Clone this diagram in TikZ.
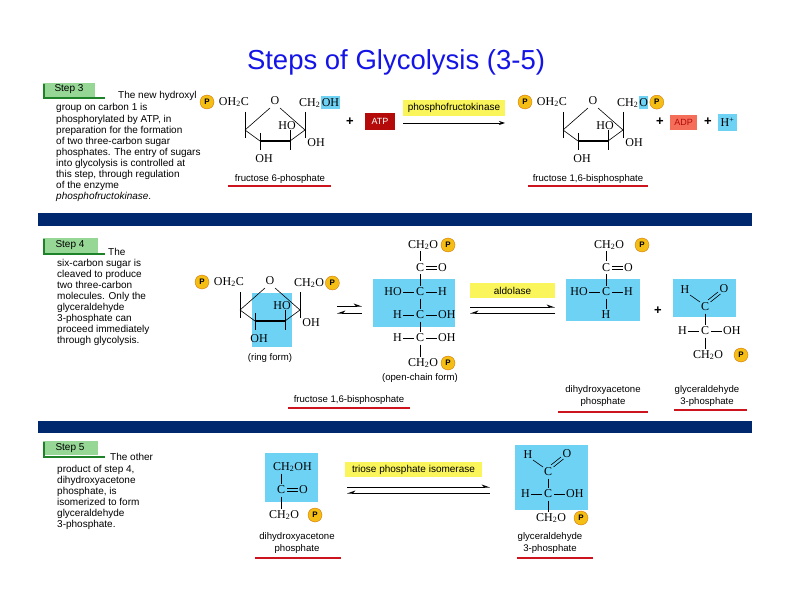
\documentclass[tikz,border=0pt]{standalone}
\usepackage{fontspec}
\setmainfont{Liberation Sans}
\newfontfamily\chem{Liberation Serif}
\usetikzlibrary{arrows.meta}
\definecolor{ttl}{RGB}{20,20,230}
\definecolor{barc}{RGB}{0,40,110}
\definecolor{cy}{RGB}{110,210,245}
\definecolor{yl}{RGB}{250,245,90}
\definecolor{rl}{RGB}{205,20,30}
\definecolor{pbc}{RGB}{245,190,20}
\definecolor{sg}{RGB}{150,215,150}
\definecolor{dg}{RGB}{30,130,40}
\definecolor{atpc}{RGB}{180,10,10}
\definecolor{adpc}{RGB}{245,110,90}
\tikzset{
 ch/.style={font=\chem\fontsize{12}{14}\selectfont, inner sep=0},
 pball/.style={circle,fill=pbc,draw=orange!80!black,line width=.3pt,inner sep=0,minimum size=14pt,font=\bfseries\fontsize{8}{8}\selectfont},
 bond/.style={line width=.6pt},
 ul/.style={rl,line width=2.4pt},
 lbl/.style={font=\fontsize{9.6}{11.5}\selectfont,align=center,inner sep=0},
 desc/.style={font=\fontsize{10}{11}\selectfont,anchor=base west,inner sep=0},
 enz/.style={font=\fontsize{10}{10}\selectfont,inner sep=0},
 stl/.style={font=\fontsize{10}{10}\selectfont,inner sep=0},
 stepbox/.style={fill=sg,draw=none},
 rarr/.style={line width=.8pt,-{Stealth[length=6pt,width=4pt]}},
 hr/.style={line width=1pt,-{Stealth[harpoon,length=7pt,width=5pt]}},
 hl/.style={line width=1pt,-{Stealth[harpoon,swap,length=7pt,width=5pt]}},
 hi/.style={ch,fill=cy,inner xsep=1pt,inner ysep=2.5pt,anchor=base west},
 plus/.style={font=\bfseries\fontsize{13}{13}\selectfont,inner sep=0},
}
\newcommand\pb[2]{\node[pball] at (#1,#2) {P};}
\newcommand\ring[2]{\begin{scope}[shift={(#1,#2)}]
 \pb{-38}{-28}
 \node[ch,anchor=east] at (4,-28) {OH\textsubscript{2}C};
 \node[ch] at (30,-29) {O};
 \draw[bond] (0,0)--(25,-22) (35,-22)--(60,0) (0,0)--(15,11) (45,11)--(60,0);
 \draw[line width=2.8pt] (15,11)--(45,11);
 \draw[bond] (0,-18)--(0,8) (60,-18)--(60,8) (15,3)--(15,20) (45,0)--(45,20);
 \node[ch] at (42,-4) {HO};
 \node[ch] at (71,13) {OH};
 \node[ch] at (19,29) {OH};
\end{scope}}
\newcommand\crow[4]{\node[ch] at (#1,#2) {C};
 \draw[bond] (#1-17,#2)--(#1-6,#2) (#1+6,#2)--(#1+17,#2);
 \node[ch,anchor=east] at (#1-18,#2) {#3};
 \node[ch,anchor=west] at (#1+18,#2) {#4};}
\newcommand\vb[3]{\draw[bond] (#1,#2+6.5)--(#1,#3-6.5);}
\newcommand\cdo[2]{\node[ch] at (#1,#2) {C};
 \draw[bond] (#1+6,#2-1.6)--(#1+17,#2-1.6) (#1+6,#2+1.6)--(#1+17,#2+1.6);
 \node[ch,anchor=west] at (#1+18,#2) {O};}
\newcommand\ald[2]{\node[ch] at (#1,#2) {C};
 \node[ch] at (#1-20,#2-17) {H};
 \node[ch] at (#1+19,#2-18) {O};
 \draw[bond] (#1-15,#2-12)--(#1-5,#2-5);
 \draw[bond] (#1+3,#2-7)--(#1+13,#2-15) (#1+5.5,#2-5)--(#1+15.5,#2-13);}
\newcommand\chto[3]{\node[ch,anchor=west] at (#1-12,#2) {CH\textsubscript{2}O}; \pb{#3}{#2}}
\newcommand\lines[3]{\foreach \t [count=\i from 0] in {#3} \node[desc] at (#1,#2+\i*11.1) {\t};}
\begin{document}
\begin{tikzpicture}[x=1pt,y=-1pt]
\useasboundingbox (0,0) rectangle (792,612);
\fill[white] (0,0) rectangle (792,612);
\node[ttl,font=\fontsize{27.5}{30}\selectfont,inner sep=0] (title) at (396,62) {Steps of Glycolysis (3-5)};
% bars
\fill[barc] (38,213) rectangle (752,226);
\fill[barc] (38,421) rectangle (752,433);
% ---- step 3
\fill[stepbox] (43,83) rectangle (95,97);
\node[stl] (s3) at (69,89.5) {Step 3};
\draw[dg,line width=2.5pt] (44,84)--(44,98)--(105,98);
\node[desc] at (118,99) {The new hydroxyl};
\lines{56}{111}{group on carbon 1 is,{phosphorylated by ATP, in},preparation for the formation,of two three-carbon sugar,phosphates. The entry of sugars,into glycolysis is controlled at,{this step, through regulation},of the enzyme,\textit{phosphofructokinase}.}
\ring{245}{130}
\node[ch,anchor=west] (r1) at (299,103) {CH\textsubscript{2}};
\node[hi] at (r1.base east) {OH};
\node[lbl] at (280,179) {fructose 6-phosphate};
\draw[ul] (228,186)--(331,186);
\node[plus] at (350,122) {+};
\fill[atpc] (365,113) rectangle (395,130);
\node[white,font=\fontsize{9}{9}\selectfont] (atp) at (380,121.5) {ATP};
\fill[yl] (403,100) rectangle (505,116);
\node[enz] (pfk) at (454,108) {phosphofructokinase};
\draw[rarr] (403,123)--(505,123);
\ring{563}{130}
\node[ch,anchor=west] (r2) at (617,103) {CH\textsubscript{2}};
\node[hi,inner xsep=.5pt] (o2) at (r2.base east) {O};
\node[pball,anchor=west] at ([xshift=1pt]o2.east) {P};
\node[lbl] at (588,179) {fructose 1,6-bisphosphate};
\draw[ul] (528,186)--(648,186);
\node[plus] at (660,122) {+};
\fill[adpc] (670,115) rectangle (697,130);
\node[atpc,font=\fontsize{9}{9}\selectfont] (adp) at (683.5,122.5) {ADP};
\node[plus] at (708,122) {+};
\fill[cy] (718,114) rectangle (737,131);
\node[ch] (h) at (727.5,122.5) {H\textsuperscript{+}};
% ---- step 4
\fill[stepbox] (43,238) rectangle (98,253);
\node[stl] (s4) at (70,245) {Step 4};
\draw[dg,line width=2.5pt] (44,239)--(44,254)--(105,254);
\node[desc] at (108,255) {The};
\lines{57}{266}{six-carbon sugar is,cleaved to produce,two three-carbon,molecules. Only the,glyceraldehyde,3-phosphate can,proceed immediately,through glycolysis.}
\fill[cy] (252,293) rectangle (292,347);
\ring{240}{310}
\node[ch,anchor=west] (r3) at (294,283) {CH\textsubscript{2}O};
\node[pball,anchor=west] at ([xshift=1pt]r3.east) {P};
\node[lbl] at (270,358) {(ring form)};
\draw[hr] (337,306)--(362,306);
\draw[hl] (362,313)--(337,313);
% open chain
\fill[cy] (373,279) rectangle (455,327);
\chto{420}{245}{448}
\vb{420}{245}{268}
\cdo{420}{268}
\vb{420}{268}{292}
\crow{420}{292}{HO}{H}
\vb{420}{292}{315}
\crow{420}{315}{H}{OH}
\vb{420}{315}{338}
\crow{420}{338}{H}{OH}
\vb{420}{338}{363}
\chto{420}{363}{448}
\node[lbl] at (420,378) {(open-chain form)};
\node[lbl] at (349,400) {fructose 1,6-bisphosphate};
\draw[ul] (288,408)--(410,408);
\fill[yl] (470,283) rectangle (555,298);
\node[enz] (aldo) at (512.5,290.5) {aldolase};
\draw[hr] (470,307)--(555,307);
\draw[hl] (555,313)--(470,313);
% DHAP
\fill[cy] (566,279) rectangle (640,321);
\chto{606}{245}{642}
\vb{606}{245}{268}
\cdo{606}{268}
\vb{606}{268}{292}
\crow{606}{292}{HO}{H}
\vb{606}{292}{315}
\node[ch] at (606,315) {H};
\node[plus] at (658,311) {+};
% G3P
\fill[cy] (673,279) rectangle (736,317);
\ald{705}{307}
\vb{705}{307}{331}
\crow{705}{331}{H}{OH}
\vb{705}{331}{355}
\chto{705}{355}{741}
\node[lbl] at (603,396) {dihydroxyacetone\\phosphate};
\draw[ul] (558,412)--(648,412);
\node[lbl] at (707,396) {glyceraldehyde\\3-phosphate};
\draw[ul] (674,410)--(747,410);
% ---- step 5
\fill[stepbox] (43,441) rectangle (98,455);
\node[stl] (s5) at (70,448) {Step 5};
\draw[dg,line width=2.5pt] (44,442)--(44,457)--(105,457);
\node[desc] at (110,460) {The other};
\lines{57}{472}{{product of step 4,},dihydroxyacetone,{phosphate, is},isomerized to form,glyceraldehyde,3-phosphate.}
\fill[cy] (265,453) rectangle (318,502);
\node[ch,anchor=west] at (273,467) {CH\textsubscript{2}OH};
\vb{281}{467}{490}
\cdo{281}{490}
\vb{281}{490}{515}
\chto{281}{515}{315}
\node[lbl] at (297,543) {dihydroxyacetone\\phosphate};
\draw[ul] (255,558)--(341,558);
\fill[yl] (345,462) rectangle (482,477);
\node[enz] (tpi) at (413.5,469.5) {triose phosphate isomerase};
\draw[hr] (347,487)--(490,487);
\draw[hl] (490,493)--(347,493);
\fill[cy] (515,445) rectangle (588,510);
\ald{548}{472}
\vb{548}{472}{494}
\crow{548}{494}{H}{OH}
\vb{548}{494}{518}
\chto{548}{518}{581}
\node[lbl] at (550,543) {glyceraldehyde\\3-phosphate};
\draw[ul] (517,558)--(593,558);
\end{tikzpicture}
\end{document}
